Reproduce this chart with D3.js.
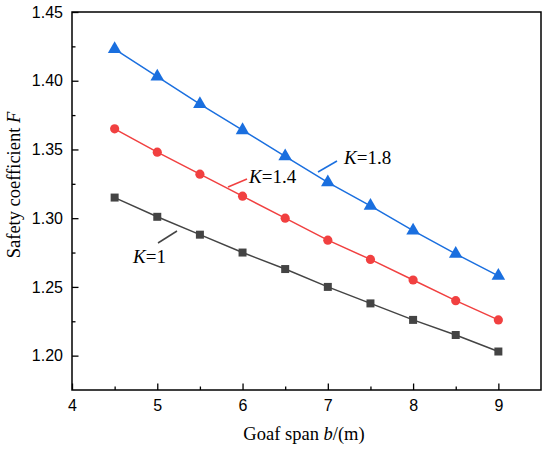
<!DOCTYPE html>
<html><head><meta charset="utf-8">
<script src="https://cdn.jsdelivr.net/npm/d3@7"></script>
<style>body{margin:0;background:#fff}svg{display:block}</style>
</head><body>
<svg id="c" width="550" height="450"></svg>
<script>
const spans = [4.5, 5.0, 5.5, 6.0, 6.5, 7.0, 7.5, 8.0, 8.5, 9.0];
const k1 = [1.315, 1.301, 1.288, 1.275, 1.263, 1.250, 1.238, 1.226, 1.215, 1.203];
const k14 = [1.365, 1.348, 1.332, 1.316, 1.300, 1.284, 1.270, 1.255, 1.240, 1.226];
const k18 = [1.423, 1.403, 1.383, 1.364, 1.345, 1.326, 1.309, 1.291, 1.274, 1.258];
const xTicks = [4, 5, 6, 7, 8, 9];
const yTicks = [1.20, 1.25, 1.30, 1.35, 1.40, 1.45];

const svg = d3.select("#c");
const m = {l: 72, r: 9, t: 12, b: 60};
const W = 550, H = 450;
const x = d3.scaleLinear().domain([4, 9.5]).range([m.l, W - m.r]);
const y = d3.scaleLinear().domain([1.175, 1.45]).range([H - m.b, m.t]);

const series = [
  {vals: k1, color: "#444444", shape: d3.symbolSquare, size: 64},
  {vals: k14, color: "#F14040", shape: d3.symbolCircle, size: 66},
  {vals: k18, color: "#1A6FDF", shape: d3.symbolTriangle, size: 80}
];

const line = d3.line().x((d, i) => x(spans[i])).y(d => y(d));
series.forEach(s => {
  svg.append("path").attr("d", line(s.vals)).attr("fill", "none")
    .attr("stroke", s.color).attr("stroke-width", 1.5);
  svg.selectAll(null).data(s.vals).enter().append("path")
    .attr("d", d3.symbol().type(s.shape).size(s.size))
    .attr("transform", (d, i) => `translate(${x(spans[i])},${y(d)})`)
    .attr("fill", s.color);
});

// frame
svg.append("rect").attr("x", m.l).attr("y", m.t)
  .attr("width", W - m.r - m.l).attr("height", H - m.b - m.t)
  .attr("fill", "none").attr("stroke", "#000").attr("stroke-width", 1.5);

const fontTick = "'Liberation Sans', Arial, sans-serif";
// minor ticks
const xAxisMinor = d3.axisBottom(x).tickValues([4.5,5.5,6.5,7.5,8.5]).tickSize(-3.5).tickFormat("");
const yAxisMinor = d3.axisLeft(y).tickValues([1.225,1.275,1.325,1.375,1.425]).tickSize(-3.5).tickFormat("");
svg.append("g").attr("transform", `translate(0,${H - m.b})`).call(xAxisMinor)
  .call(g => g.select(".domain").remove()).selectAll("line").attr("stroke-width", 1.3);
svg.append("g").attr("transform", `translate(${m.l},0)`).call(yAxisMinor)
  .call(g => g.select(".domain").remove()).selectAll("line").attr("stroke-width", 1.3);

const xAxis = d3.axisBottom(x).tickValues(xTicks).tickSize(-6.5).tickPadding(10).tickFormat(d3.format("d"));
const yAxis = d3.axisLeft(y).tickValues(yTicks).tickSize(-6.5).tickPadding(9).tickFormat(d3.format(".2f"));
const gx = svg.append("g").attr("transform", `translate(0,${H - m.b})`).call(xAxis);
const gy = svg.append("g").attr("transform", `translate(${m.l},0)`).call(yAxis);
[gx, gy].forEach(g => {
  g.select(".domain").remove();
  g.selectAll("line").attr("stroke-width", 1.3);
  g.selectAll("text").attr("font-family", fontTick).attr("font-size", 16).attr("fill", "#000");
});

const serif = "'Liberation Serif', 'Times New Roman', serif";
// axis titles
const xt = svg.append("text").attr("x", 304).attr("y", 440).attr("text-anchor", "middle")
  .attr("font-family", serif).attr("font-size", 18.5);
xt.append("tspan").text("Goaf span ");
xt.append("tspan").attr("font-style", "italic").text("b");
xt.append("tspan").text("/(m)");

const yt = svg.append("text").attr("transform", "translate(20,185) rotate(-90)").attr("text-anchor", "middle")
  .attr("font-family", serif).attr("font-size", 18.5);
yt.append("tspan").text("Safety coefficient ");
yt.append("tspan").attr("font-style", "italic").text("F");

// annotations
const labels = [
  {k: "1", color: "#444444", x1: 158, y1: 243, x2: 177, y2: 231, tx: 133, ty: 263},
  {k: "1.4", color: "#F14040", x1: 228, y1: 187, x2: 247, y2: 179, tx: 249, ty: 183},
  {k: "1.8", color: "#1A6FDF", x1: 318, y1: 172, x2: 337, y2: 161, tx: 344, ty: 164}
];
labels.forEach(l => {
  svg.append("line").attr("x1", l.x1).attr("y1", l.y1).attr("x2", l.x2).attr("y2", l.y2)
    .attr("stroke", l.color).attr("stroke-width", 1.5);
  const t = svg.append("text").attr("x", l.tx).attr("y", l.ty)
    .attr("font-family", serif).attr("font-size", 19).attr("fill", "#000");
  t.append("tspan").attr("font-style", "italic").text("K");
  t.append("tspan").text("=" + l.k);
});
</script>
</body></html>
